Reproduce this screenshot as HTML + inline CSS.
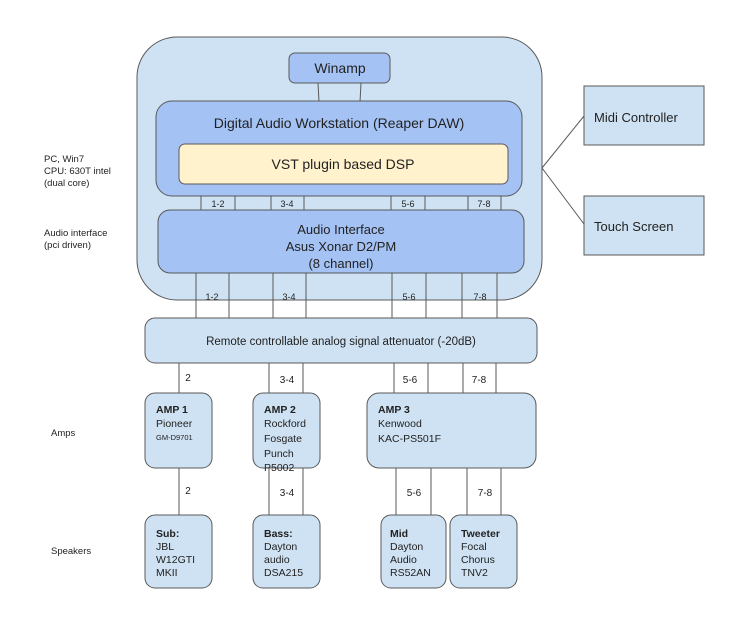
<!DOCTYPE html>
<html><head><meta charset="utf-8"><style>
html,body{margin:0;padding:0;background:#fff;}
svg{display:block;font-family:"Liberation Sans",Arial,sans-serif;}
</style></head><body>
<svg width="731" height="620" viewBox="0 0 731 620" xmlns="http://www.w3.org/2000/svg">
<g stroke="#595959" stroke-width="1">
<rect x="137" y="37" width="405" height="263" rx="40" fill="#cfe2f3"/>
<rect x="289" y="53" width="101" height="30" rx="6" fill="#a4c2f4"/>
<line x1="318" y1="83" x2="319" y2="102"/><line x1="361" y1="83" x2="360" y2="102"/>
<rect x="156" y="101" width="366" height="95" rx="16" fill="#a4c2f4"/>
<rect x="179" y="144" width="329" height="40" rx="6" fill="#fff2cc"/>
<g fill="none">
<rect x="201" y="196" width="34" height="14"/><rect x="271" y="196" width="33" height="14"/>
<rect x="391" y="196" width="34" height="14"/><rect x="468" y="196" width="33" height="14"/>
<line x1="235" y1="196" x2="271" y2="196"/><line x1="425" y1="196" x2="468" y2="196"/>
</g>
<rect x="158" y="210" width="366" height="63" rx="12" fill="#a4c2f4"/>
<g fill="none">
<rect x="196" y="273" width="33" height="45"/><rect x="273" y="273" width="33" height="45"/>
<rect x="392" y="273" width="34" height="45"/><rect x="462" y="273" width="35" height="45"/>
</g>
<rect x="145" y="318" width="392" height="45" rx="10" fill="#cfe2f3"/>
<line x1="179" y1="363" x2="179" y2="393"/>
<line x1="269" y1="363" x2="269" y2="393"/><line x1="303" y1="363" x2="303" y2="393"/>
<line x1="394" y1="363" x2="394" y2="393"/><line x1="428" y1="363" x2="428" y2="393"/>
<line x1="463" y1="363" x2="463" y2="393"/><line x1="496" y1="363" x2="496" y2="393"/>
<rect x="145" y="393" width="67" height="75" rx="10" fill="#cfe2f3"/>
<rect x="253" y="393" width="67" height="75" rx="10" fill="#cfe2f3"/>
<rect x="367" y="393" width="169" height="75" rx="12" fill="#cfe2f3"/>
<line x1="179" y1="468" x2="179" y2="515"/>
<line x1="269" y1="468" x2="269" y2="515"/><line x1="303" y1="468" x2="303" y2="515"/>
<line x1="396" y1="468" x2="396" y2="515"/><line x1="431" y1="468" x2="431" y2="515"/>
<line x1="467" y1="468" x2="467" y2="515"/><line x1="501" y1="468" x2="501" y2="515"/>
<rect x="145" y="515" width="67" height="73" rx="10" fill="#cfe2f3"/>
<rect x="253" y="515" width="67" height="73" rx="10" fill="#cfe2f3"/>
<rect x="381" y="515" width="65" height="73" rx="10" fill="#cfe2f3"/>
<rect x="450" y="515" width="67" height="73" rx="10" fill="#cfe2f3"/>
<rect x="584" y="86" width="120" height="59" fill="#cfe2f3"/>
<rect x="584" y="196" width="120" height="59" fill="#cfe2f3"/>
<line x1="542" y1="168" x2="584" y2="116"/><line x1="542" y1="168" x2="584" y2="224"/>
</g>
<g fill="#222" text-anchor="middle">
<text x="340" y="73" font-size="14">Winamp</text>
<text x="339" y="128" font-size="14">Digital Audio Workstation (Reaper DAW)</text>
<text x="343" y="169" font-size="14">VST plugin based DSP</text>
<g font-size="9">
<text x="218" y="207">1-2</text><text x="287" y="207">3-4</text><text x="408" y="207">5-6</text><text x="484" y="207">7-8</text>
<text x="212" y="300">1-2</text><text x="289" y="300">3-4</text><text x="409" y="300">5-6</text><text x="480" y="300">7-8</text>
</g>
<text x="341" y="234" font-size="13">Audio Interface</text>
<text x="341" y="251" font-size="13">Asus Xonar D2/PM</text>
<text x="341" y="268" font-size="13">(8 channel)</text>
<text x="341" y="345" font-size="11.5">Remote controllable analog signal attenuator (-20dB)</text>
<g font-size="10">
<text x="188" y="381">2</text><text x="287" y="383">3-4</text><text x="410" y="383">5-6</text><text x="479" y="383">7-8</text>
<text x="188" y="494">2</text><text x="287" y="496">3-4</text><text x="414" y="496">5-6</text><text x="485" y="496">7-8</text>
</g>
</g>
<g fill="#222" font-size="13">
<text x="594" y="122">Midi Controller</text>
<text x="594" y="231">Touch Screen</text>
</g>
<g fill="#222" font-size="9.5">
<text x="44" y="162">PC, Win7</text>
<text x="44" y="174">CPU: 630T intel</text>
<text x="44" y="186">(dual core)</text>
<text x="44" y="236">Audio interface</text>
<text x="44" y="248">(pci driven)</text>
<text x="51" y="436">Amps</text>
<text x="51" y="554">Speakers</text>
</g>
<g fill="#222" font-size="10.5">
<text x="156" y="413" font-weight="bold">AMP 1</text>
<text x="156" y="427">Pioneer</text>
<text x="156" y="440" font-size="7.5">GM-D9701</text>
<text x="264" y="413" font-weight="bold">AMP 2</text>
<text x="264" y="427">Rockford</text>
<text x="264" y="442">Fosgate</text>
<text x="264" y="457">Punch</text>
<text x="264" y="471">P5002</text>
<text x="378" y="413" font-weight="bold">AMP 3</text>
<text x="378" y="427">Kenwood</text>
<text x="378" y="442">KAC-PS501F</text>
<text x="156" y="537" font-weight="bold">Sub:</text>
<text x="156" y="550">JBL</text>
<text x="156" y="563">W12GTI</text>
<text x="156" y="576">MKII</text>
<text x="264" y="537" font-weight="bold">Bass:</text>
<text x="264" y="550">Dayton</text>
<text x="264" y="563">audio</text>
<text x="264" y="576">DSA215</text>
<text x="390" y="537" font-weight="bold">Mid</text>
<text x="390" y="550">Dayton</text>
<text x="390" y="563">Audio</text>
<text x="390" y="576">RS52AN</text>
<text x="461" y="537" font-weight="bold">Tweeter</text>
<text x="461" y="550">Focal</text>
<text x="461" y="563">Chorus</text>
<text x="461" y="576">TNV2</text>
</g>
</svg>
</body></html>
